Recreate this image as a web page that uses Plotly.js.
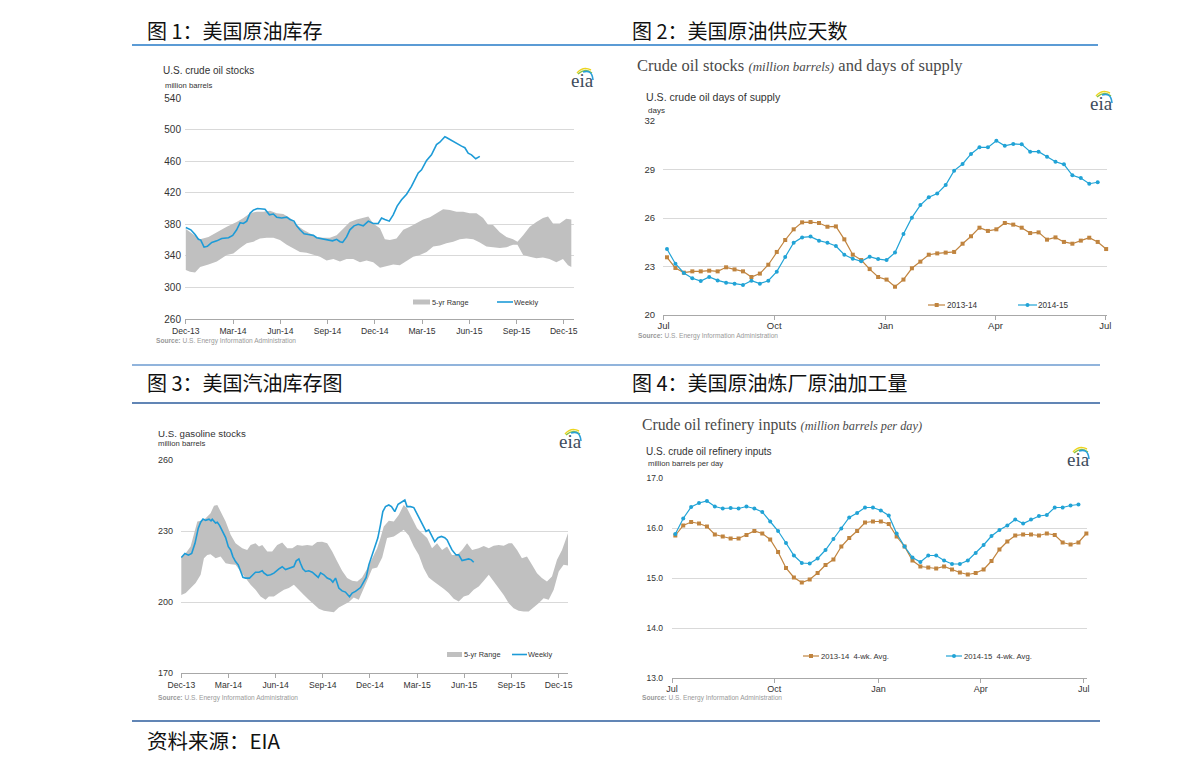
<!DOCTYPE html>
<html><head><meta charset="utf-8">
<script src="https://cdn.plot.ly/plotly-3.0.1.min.js"></script>
<style>html,body{margin:0;padding:0;background:#fff;}#chart{width:1191px;height:769px;}</style>
</head><body><div id="chart"></div>
<script>
// ===== Figure 1: U.S. crude oil stocks (million barrels), x = months after Dec-13 =====
const crudeTickText = ['Dec-13','Mar-14','Jun-14','Sep-14','Dec-14','Mar-15','Jun-15','Sep-15','Dec-15'];
const crudeTickVals = [0,3,6,9,12,15,18,21,24];
const crudeYTicks = [260,300,340,380,420,460,500,540];
const crudeWeeklyX = [0,0.32,0.59,0.80,0.95,1.16,1.37,1.65,1.97,2.28,2.71,2.98,3.23,3.45,3.66,3.87,4.08,4.29,4.55,4.82,5.03,5.31,5.56,5.77,6.09,6.41,6.62,6.87,7.04,7.25,7.51,7.78,8.10,8.31,8.56,8.94,9.15,9.32,9.58,9.79,9.96,10.21,10.42,10.68,10.95,11.27,11.59,11.90,12.22,12.43,12.64,12.92,13.17,13.42,13.70,14.02,14.33,14.55,14.76,14.97,15.29,15.60,15.92,16.13,16.45,16.55,16.87,17.19,17.51,17.72,17.93,18.14,18.41,18.67];
const crudeWeekly = [376,373,367,361,360,351,352,357,359,362,363,366,373,382,381,384,394,398,400,399,399,392,393,389,388,389,386,384,378,373,368,367,366,363,362,360,360,359,361,358,357,364,373,378,380,378,384,381,381,388,386,384,392,403,411,418,428,436,445,449,461,468,481,484,491,490,486,483,479,477,470,468,463,466];
const crudeRangeHighX = [0,0.49,0.91,1.44,1.97,2.60,3.23,3.66,4.08,4.50,4.93,5.35,5.77,6.19,6.62,7.04,7.46,7.89,8.31,8.73,9.15,9.58,10.00,10.42,10.85,11.27,11.59,11.90,12.33,12.64,12.96,13.38,13.81,14.23,14.65,15.07,15.50,15.92,16.34,16.77,17.19,17.61,18.03,18.46,18.88,19.20,19.51,19.94,20.36,20.78,21.06,21.42,21.84,22.26,22.68,23.00,23.32,23.74,24.16,24.48];
const crudeRangeHigh = [374,367,361,364,370,377,383,388,394,396,396,397,394,393,388,379,373,368,364,363,363,366,375,383,386,388,390,381,375,361,360,362,373,377,381,386,389,394,399,398,396,396,394,394,388,379,379,370,364,361,358,366,377,383,388,390,381,381,387,386];
const crudeRangeLowX = [0,0.27,0.59,0.91,1.44,1.97,2.60,3.02,3.45,3.87,4.29,4.71,5.14,5.56,5.98,6.41,6.83,7.25,7.67,8.10,8.52,8.94,9.37,9.79,10.21,10.63,11.06,11.48,11.90,12.33,12.75,13.17,13.59,14.02,14.44,14.86,15.29,15.71,16.13,16.55,16.98,17.40,17.82,18.25,18.67,19.09,19.51,19.94,20.36,20.78,21.06,21.42,21.84,22.26,22.68,23.09,23.53,23.95,24.27,24.48];
const crudeRangeLow = [322,320,319,326,329,333,341,343,350,356,358,362,363,363,360,354,349,345,344,341,339,334,336,333,336,336,332,334,332,325,327,329,328,333,339,341,345,352,353,356,358,361,362,361,357,352,351,350,351,354,354,341,339,337,338,336,332,336,328,326];

// ===== Figure 2: U.S. crude oil days of supply (days), weekly Jul..Jul =====
const daysTickText = ['Jul','Oct','Jan','Apr','Jul'];
const daysTickVals = [-0.4,12.7,25.9,38.9,51.9];
const daysYTicks = [20,23,26,29,32];
const days1314 = [23.57,22.91,22.62,22.70,22.70,22.74,22.70,22.95,22.82,22.70,22.35,22.56,23.11,23.90,24.64,25.30,25.73,25.75,25.69,25.46,25.48,24.68,23.73,23.40,22.84,22.35,22.19,21.75,22.19,22.89,23.30,23.73,23.81,23.86,23.90,24.41,24.87,25.40,25.20,25.30,25.69,25.59,25.40,25.07,25.11,24.66,24.80,24.52,24.41,24.60,24.78,24.52,24.08];
const days1415 = [24.08,23.17,22.60,22.27,22.10,22.35,22.14,22.00,21.94,21.86,22.12,21.94,22.12,22.68,23.59,24.47,24.80,24.85,24.60,24.47,24.27,23.73,23.48,23.32,23.61,23.46,23.40,23.86,25.01,26.02,26.80,27.28,27.51,28.04,28.93,29.34,29.96,30.37,30.37,30.78,30.47,30.58,30.56,30.10,30.10,29.79,29.48,29.32,28.64,28.47,28.12,28.21];

// ===== Figure 3: U.S. gasoline stocks (million barrels), x = months after Dec-13 =====
const gasYTicks = [170,200,230,260];
const gasWeeklyX = [0,0.23,0.45,0.66,0.87,1.08,1.23,1.38,1.55,1.76,1.89,1.97,2.18,2.29,2.44,2.65,2.82,2.99,3.14,3.28,3.45,3.62,3.77,3.92,4.09,4.34,4.51,4.72,4.94,5.15,5.25,5.47,5.68,5.89,6.21,6.42,6.63,6.95,7.16,7.31,7.48,7.58,7.73,7.90,8.11,8.33,8.54,8.71,8.86,9.07,9.28,9.49,9.64,9.81,10.02,10.23,10.44,10.70,10.87,11.08,11.40,11.61,11.76,11.93,12.14,12.31,12.50,12.67,12.82,12.99,13.20,13.37,13.58,13.79,14.05,14.22,14.36,14.58,14.79,14.94,15.15,15.36,15.57,15.74,15.91,16.12,16.33,16.55,16.76,16.91,17.06,17.22,17.48,17.65,17.86,18.07,18.28,18.45,18.60];
const gasWeekly = [218.8,220.5,219.8,220.5,224.8,231.2,233.7,235.1,234.5,235.0,234.3,235.0,233.4,233.7,232.3,229.8,227.2,223.4,222.0,219.2,217.1,215.7,212.6,210.4,210.1,210.1,211.2,212.6,212.6,213.2,212.3,211.2,211.5,212.2,214.0,214.9,213.7,214.3,215.0,217.4,218.2,216.4,214.0,212.9,213.2,212.6,211.5,210.4,212.3,211.5,210.1,209.5,208.4,210.1,205.9,204.7,204.2,202.2,203.8,204.5,206.1,208.7,210.4,215.7,219.9,223.4,227.0,232.6,238.2,240.3,241.0,240.3,238.2,241.3,242.4,243.1,240.3,240.3,239.9,237.9,234.7,232.6,229.8,230.5,228.4,225.5,227.2,227.7,227.2,226.2,224.1,222.0,219.9,219.9,217.5,217.7,218.2,217.8,216.8];
const gasRangeHighX = [0,0.28,0.59,0.81,1.02,1.23,1.55,1.86,2.08,2.29,2.50,2.82,3.14,3.45,3.88,4.19,4.41,4.72,4.94,5.15,5.47,5.78,6.10,6.42,6.74,7.06,7.37,7.69,8.01,8.33,8.64,8.96,9.28,9.60,9.92,10.23,10.55,10.87,11.19,11.50,11.82,12.14,12.46,12.67,12.88,13.20,13.52,13.83,14.15,14.36,14.69,15.00,15.32,15.64,15.95,16.27,16.59,16.91,17.22,17.54,17.86,18.18,18.50,18.92,19.24,19.56,19.87,20.19,20.51,20.83,21.04,21.36,21.67,21.99,22.31,22.63,22.94,23.26,23.58,23.90,24.22,24.60];
const gasRangeHigh = [219.2,220.6,223.4,228.4,234.0,234.3,235.4,237.5,240.7,241.0,238.2,234.0,228.4,224.8,222.7,222.0,224.1,224.8,223.4,224.1,221.3,221.3,224.1,225.1,222.7,222.7,224.1,223.8,224.1,223.8,225.3,225.5,224.8,221.3,217.1,213.2,210.1,209.0,208.7,210.4,214.0,218.2,222.7,227.0,231.9,234.3,234.0,236.8,241.0,239.6,235.4,231.2,229.1,227.0,222.7,224.8,222.0,223.4,219.9,219.9,222.0,224.8,222.0,222.7,223.7,222.7,223.8,224.1,223.8,224.8,224.8,222.0,218.5,219.2,215.7,212.2,210.1,208.7,210.8,217.8,222.0,229.1];
const gasRangeLowX = [0,0.28,0.59,0.91,1.23,1.44,1.65,1.86,2.18,2.50,2.82,3.14,3.45,3.77,4.09,4.41,4.72,5.04,5.36,5.57,5.89,6.21,6.53,6.84,7.16,7.48,7.80,8.11,8.43,8.75,9.07,9.39,9.70,10.02,10.34,10.66,10.97,11.29,11.55,11.82,12.14,12.46,12.78,13.09,13.52,13.83,14.15,14.47,14.79,15.11,15.42,15.74,16.06,16.38,16.69,17.01,17.33,17.65,17.97,18.28,18.60,18.92,19.24,19.56,19.87,20.19,20.51,20.83,21.14,21.46,21.78,22.10,22.42,22.73,23.05,23.37,23.69,24.01,24.32,24.60];
const gasRangeLow = [203.0,203.8,205.9,208.0,211.5,218.5,219.9,220.2,218.5,219.2,216.4,216.0,215.7,212.9,210.1,207.3,205.2,202.3,200.9,202.3,202.3,203.8,205.2,205.9,207.3,205.2,203.0,200.9,198.8,197.1,196.3,196.0,195.7,197.7,198.8,200.0,201.9,200.9,204.5,209.0,214.0,214.6,218.8,227.0,227.7,229.1,230.5,228.1,223.4,219.9,214.3,210.4,208.7,207.0,205.6,203.8,201.4,200.2,202.3,203.0,205.2,206.6,209.0,211.5,208.7,205.9,203.0,199.5,197.4,196.3,196.0,196.0,197.7,199.5,201.6,200.9,205.2,212.9,215.7,215.4];

// ===== Figure 4: U.S. crude oil refinery inputs, 4-wk avg (million b/d) =====
const refTickText = ['Jul','Oct','Jan','Apr','Jul'];
const refTickVals = [-0.42,12.5,25.7,38.65,51.66];
const refYTicks = [13,14,15,16,17];
const refYText = ['13.0','14.0','15.0','16.0','17.0'];
const ref1314 = [15.85,16.05,16.12,16.09,16.03,15.87,15.83,15.79,15.79,15.86,15.94,15.89,15.77,15.52,15.20,15.01,14.91,14.97,15.10,15.26,15.37,15.63,15.80,15.94,16.11,16.13,16.13,16.08,15.83,15.63,15.35,15.23,15.21,15.19,15.23,15.17,15.11,15.07,15.10,15.17,15.34,15.57,15.73,15.85,15.87,15.87,15.85,15.89,15.86,15.71,15.67,15.71,15.89];
const ref1415 = [15.88,16.19,16.42,16.50,16.54,16.43,16.39,16.40,16.39,16.43,16.39,16.32,16.13,15.94,15.70,15.45,15.30,15.29,15.39,15.56,15.78,15.99,16.21,16.30,16.41,16.41,16.35,16.25,15.89,15.63,15.41,15.32,15.45,15.45,15.35,15.28,15.28,15.35,15.50,15.66,15.84,15.96,16.05,16.17,16.09,16.17,16.24,16.26,16.41,16.41,16.45,16.47];

// ===== layout helpers =====
const W = 1191, H = 769;
const fx = p => p / W, fy = p => 1 - p / H;
const SANS = '"Liberation Sans",Arial,sans-serif';
const SERIF = '"Liberation Serif","Times New Roman",serif';
const CJK = '"Noto Sans CJK SC","Noto Sans",sans-serif';
const BLUE = '#1d9bd7', ORANGE = '#c0843f', GRAY = '#c0c0c0', LBLUE = '#21a3d6';

function xAx(l, r, range, tv, tt, anchor, size, standoff) {
  return {domain: [fx(l), fx(r)], range, tickmode: 'array', tickvals: tv, ticktext: tt,
    showgrid: false, zeroline: false, showline: true, linecolor: '#a8a8a8', linewidth: 1,
    ticks: 'outside', ticklen: 4, tickcolor: '#a8a8a8', tickfont: {family: SANS, size, color: '#333'},
    ticklabelstandoff: standoff, anchor, fixedrange: true};
}
function yAx(t, b, range, tv, tt, anchor, size, standoff) {
  return {domain: [fy(b), fy(t)], range, tickmode: 'array', tickvals: tv, ticktext: tt,
    showgrid: true, gridcolor: '#d9d9d9', gridwidth: 1, zeroline: false, showline: false,
    ticks: '', tickfont: {family: SANS, size, color: '#333'}, ticklabelstandoff: standoff,
    anchor, fixedrange: true};
}
const annotations = [];
function txt(text, x, y, size, color, family, xanchor) {
  annotations.push({text, x: fx(x), y: fy(y), xref: 'paper', yref: 'paper', showarrow: false,
    xanchor: xanchor || 'left', yanchor: 'middle', font: {size, color, family}, borderpad: 0});
}
const shapes = [];
function hline(x0, x1, y, color, width) {
  shapes.push({type: 'line', xref: 'paper', yref: 'paper', x0: fx(x0), x1: fx(x1), y0: fy(y), y1: fy(y), line: {color, width}});
}
function rect(x0, x1, y0, y1, color) {
  shapes.push({type: 'rect', xref: 'paper', yref: 'paper', x0: fx(x0), x1: fx(x1), y0: fy(y0), y1: fy(y1), fillcolor: color, line: {width: 0}});
}
function circ(cx, cy, r, color) {
  shapes.push({type: 'circle', xref: 'paper', yref: 'paper', x0: fx(cx - r), x1: fx(cx + r), y0: fy(cy - r), y1: fy(cy + r), fillcolor: color, line: {width: 0}});
}
const P = (x, y) => fx(x) + ',' + fy(y);
function arc(x0, y0, qx, qy, x1, y1, color, width) {
  shapes.push({type: 'path', xref: 'paper', yref: 'paper', path: 'M' + P(x0, y0) + ' Q' + P(qx, qy) + ' ' + P(x1, y1), line: {color, width}});
}
function logo(cx, cy) {
  txt('eia', cx, cy + 1, 19, '#3e4c5c', SERIF, 'center');
  arc(cx - 5, cy - 6, cx + 1, cy - 13, cx + 9, cy - 9, '#ecd51f', 1.4);
  arc(cx - 4, cy - 5, cx + 3, cy - 11.5, cx + 10, cy - 6, '#8cc43f', 1.4);
  arc(cx + 1, cy - 7, cx + 10, cy - 10, cx + 11, cy + 1, '#2a9fd8', 1.6);
}

// ===== traces =====
const idx = a => a.map((_, i) => i);
const traces = [
  {x: crudeRangeHighX.concat(crudeRangeLowX.slice().reverse()), y: crudeRangeHigh.concat(crudeRangeLow.slice().reverse()),
   xaxis: 'x', yaxis: 'y', mode: 'lines', fill: 'toself', fillcolor: GRAY, line: {width: 0, color: GRAY}, hoverinfo: 'skip', name: '5-yr Range'},
  {x: crudeWeeklyX, y: crudeWeekly, xaxis: 'x', yaxis: 'y', mode: 'lines', line: {color: BLUE, width: 1.6}, name: 'Weekly'},
  {x: idx(days1314), y: days1314, xaxis: 'x2', yaxis: 'y2', mode: 'lines+markers', line: {color: ORANGE, width: 1.2},
   marker: {symbol: 'square', size: 4, color: ORANGE}, cliponaxis: false, name: '2013-14'},
  {x: idx(days1415), y: days1415, xaxis: 'x2', yaxis: 'y2', mode: 'lines+markers', line: {color: LBLUE, width: 1.2},
   marker: {symbol: 'circle', size: 4, color: LBLUE}, cliponaxis: false, name: '2014-15'},
  {x: gasRangeHighX.concat(gasRangeLowX.slice().reverse()), y: gasRangeHigh.concat(gasRangeLow.slice().reverse()),
   xaxis: 'x3', yaxis: 'y3', mode: 'lines', fill: 'toself', fillcolor: GRAY, line: {width: 0, color: GRAY}, hoverinfo: 'skip', name: '5-yr Range'},
  {x: gasWeeklyX, y: gasWeekly, xaxis: 'x3', yaxis: 'y3', mode: 'lines', line: {color: BLUE, width: 1.6}, name: 'Weekly'},
  {x: idx(ref1314), y: ref1314, xaxis: 'x4', yaxis: 'y4', mode: 'lines+markers', line: {color: ORANGE, width: 1.2},
   marker: {symbol: 'square', size: 4, color: ORANGE}, cliponaxis: false, name: '2013-14 4-wk. Avg.'},
  {x: idx(ref1415), y: ref1415, xaxis: 'x4', yaxis: 'y4', mode: 'lines+markers', line: {color: LBLUE, width: 1.2},
   marker: {symbol: 'circle', size: 4, color: LBLUE}, cliponaxis: false, name: '2014-15 4-wk. Avg.'}
];

// ===== page frame =====
hline(132, 1098, 45, '#5b9bd5', 2);
hline(132, 1100, 365, '#6d9bd0', 1.5);
hline(132, 1100, 403, '#2c5d9c', 1.5);
hline(132, 1100, 721, '#2c5d9c', 1.5);
txt('图 1：美国原油库存', 146, 30, 20, '#111', CJK);
txt('图 2：美国原油供应天数', 631, 30, 20, '#111', CJK);
txt('图 3：美国汽油库存图', 146, 382, 20, '#111', CJK);
txt('图 4：美国原油炼厂原油加工量', 631, 382, 20, '#111', CJK);
txt('资料来源：EIA', 146, 740, 20.5, '#111', CJK);

// ===== panel 1 text =====
txt('U.S. crude oil stocks', 162, 70, 10, '#333', SANS);
txt('million barrels', 164, 85, 7.7, '#333', SANS);
txt('<b>Source:</b> U.S. Energy Information Administration', 155, 341, 6.6, '#999', SANS);
rect(413, 430, 299.5, 304.5, GRAY);
txt('5-yr Range', 431, 302, 7.4, '#333', SANS);
hline(497, 513, 302, BLUE, 1.6);
txt('Weekly', 513, 302, 7.4, '#333', SANS);
logo(582, 79);

// ===== panel 2 text =====
txt('Crude oil stocks <i><span style="font-size:13px">(million barrels)</span></i> and days of supply', 636, 65, 16.5, '#4a4a4a', SERIF);
txt('U.S. crude oil days of supply', 645, 97, 10.6, '#333', SANS);
txt('days', 647, 110, 8, '#333', SANS);
txt('<b>Source:</b> U.S. Energy Information Administration', 637, 336, 6.6, '#999', SANS);
hline(928, 945, 305, ORANGE, 1.2); rect(934.7, 938.7, 303, 307, ORANGE);
txt('2013-14', 946, 305, 8.2, '#333', SANS);
hline(1018, 1037, 305, LBLUE, 1.2); circ(1027.5, 305, 2, LBLUE);
txt('2014-15', 1037, 305, 8.2, '#333', SANS);
logo(1101, 102);

// ===== panel 3 text =====
txt('U.S. gasoline stocks', 157, 433, 9.7, '#333', SANS);
txt('million barrels', 157, 444, 7.7, '#333', SANS);
txt('<b>Source:</b> U.S. Energy Information Administration', 157, 698, 6.6, '#999', SANS);
rect(447, 462, 652, 657, GRAY);
txt('5-yr Range', 463, 654.5, 7.4, '#333', SANS);
hline(512, 527, 654.5, BLUE, 1.6);
txt('Weekly', 527, 654.5, 7.4, '#333', SANS);
logo(570, 440);

// ===== panel 4 text =====
txt('Crude oil refinery inputs <i><span style="font-size:12.3px">(million barrels per day)</span></i>', 641, 425, 15.7, '#4a4a4a', SERIF);
txt('U.S. crude oil refinery inputs', 645, 451, 10, '#333', SANS);
txt('million barrels per day', 647, 463, 7.7, '#333', SANS);
txt('<b>Source:</b> U.S. Energy Information Administration', 641, 698, 6.6, '#999', SANS);
hline(803, 819, 656, ORANGE, 1.2); rect(809, 813, 654, 658, ORANGE);
txt('2013-14  4-wk. Avg.', 820, 656, 7.7, '#333', SANS);
hline(946, 962, 656, LBLUE, 1.2); circ(954, 656, 2, LBLUE);
txt('2014-15  4-wk. Avg.', 963, 656, 7.7, '#333', SANS);
logo(1078, 458);

const layout = {
  width: W, height: H, autosize: false, margin: {l: 0, r: 0, t: 0, b: 0},
  paper_bgcolor: '#fff', plot_bgcolor: 'rgba(0,0,0,0)', showlegend: false,
  xaxis: xAx(185, 574, [-0.05, 24.65], crudeTickVals, crudeTickText, 'y', 8.6, 0),
  yaxis: yAx(98, 319, [260, 540], crudeYTicks, crudeYTicks.map(String), 'x', 10, 3),
  xaxis2: xAx(663, 1107, [-0.47, 52.1], daysTickVals, daysTickText, 'y2', 9.5, -2),
  yaxis2: yAx(121, 315, [20, 32], daysYTicks, daysYTicks.map(String), 'x2', 9.5, 7),
  xaxis3: xAx(181, 568, [-0.02, 24.6], crudeTickVals, crudeTickText, 'y3', 8.6, 0),
  yaxis3: yAx(460, 673, [170, 260], gasYTicks, gasYTicks.map(String), 'x3', 9, 7),
  xaxis4: xAx(672, 1087, [-0.42, 52.08], refTickVals, refTickText, 'y4', 9, -2),
  yaxis4: yAx(478, 678, [13, 17], refYTicks, refYText, 'x4', 8.5, 8),
  annotations, shapes
};
Plotly.newPlot('chart', traces, layout, {staticPlot: true, displayModeBar: false});
</script></body></html>
